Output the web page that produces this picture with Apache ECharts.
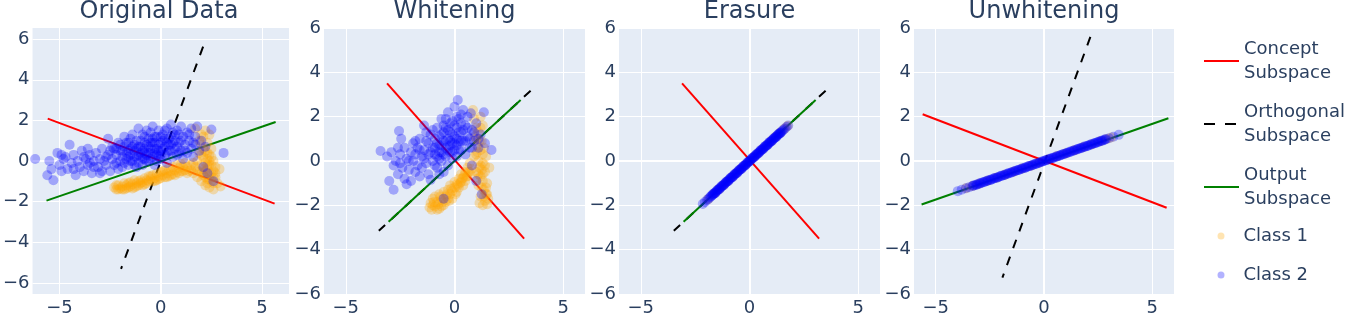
<!DOCTYPE html>
<html><head><meta charset="utf-8">
<script src="https://cdn.jsdelivr.net/npm/echarts@6/dist/echarts.min.js"></script>
<style>html,body{margin:0;padding:0;background:#fff}#c{width:1348px;height:317px}</style>
</head><body><div id="c"></div>
<script>
const titles = ['Original Data', 'Whitening', 'Erasure', 'Unwhitening'];
const xTicks = [-5, 0, 5];
const yTicks = [-6, -4, -2, 0, 2, 4, 6];
const xRanges = [[-6.33, 6.33], [-6, 6], [-6, 6], [-6, 6]];
const yRanges = [[-6.55, 6.55], [-6, 6], [-6, 6], [-6, 6]];

const conceptLines = [
  [[-5.58, 2.09], [5.62, -2.1]],
  [[-3.1, 3.5], [3.2, -3.5]],
  [[-3.1, 3.5], [3.2, -3.5]],
  [[-5.6, 2.11], [5.66, -2.11]]
];
const orthoLines = [
  [[2.09, 5.63], [-1.96, -5.31]],
  [[3.5, 3.17], [-3.48, -3.15]],
  [[3.5, 3.17], [-3.48, -3.15]],
  [[2.14, 5.6], [-1.92, -5.26]]
];
const outputLines = [
  [[-5.64, -1.95], [5.67, 1.92]],
  [[-3.03, -2.74], [3.04, 2.75]],
  [[-3.03, -2.74], [3.04, 2.75]],
  [[-5.65, -1.96], [5.74, 1.93]]
];

const origClass2 = [
[-6.2,0.1],[-5.6,-0.7],[-5.5,0.0],[-5.3,-0.95],[-5.1,0.4],[-5.0,-0.2],[-4.9,-0.5],[-4.8,0.1],[-4.5,0.8],[-4.6,-0.4],
[-4.4,-0.1],[-4.3,0.3],[-4.2,-0.7],[-4.1,0.0],[-4.0,-0.3],[-3.9,0.5],[-3.8,-0.5],[-3.7,0.1],[-3.6,-0.2],[-3.5,0.3],
[-3.4,-0.6],[-3.3,0.0],[-3.2,0.4],[-3.1,-0.3],[-3.0,0.1],[-2.9,-0.5],[-2.9,0.6],[-2.8,0.0],[-2.7,-0.2],[-2.6,0.3],
[-2.6,1.1],[-2.5,-0.5],[-2.4,0.1],[-2.3,0.6],[-2.3,-0.2],[-2.2,0.3],[-2.1,0.9],[-2.1,-0.4],[-2.0,0.0],[-2.0,0.5],
[-1.9,0.2],[-1.9,-0.3],[-1.8,0.7],[-1.8,1.2],[-1.7,0.1],[-1.7,0.4],[-1.6,-0.2],[-1.6,0.9],[-1.5,0.3],[-1.5,0.6],
[-1.4,1.3],[-1.4,0.0],[-1.3,0.5],[-1.3,0.8],[-1.2,-0.3],[-1.2,0.2],[-1.1,1.6],[-1.1,0.7],[-1.0,0.4],[-1.0,1.0],
[-0.9,0.1],[-0.9,-0.2],[-0.9,1.3],[-0.8,0.6],[-0.8,0.9],[-0.7,0.3],[-0.7,1.5],[-0.6,0.0],[-0.6,0.7],[-0.6,1.1],
[-0.5,0.4],[-0.5,1.4],[-0.4,0.2],[-0.4,0.9],[-0.4,1.7],[-0.3,0.6],[-0.3,-0.2],[-0.2,1.2],[-0.2,0.3],[-0.1,0.8],
[-0.1,1.5],[0.0,0.1],[0.0,0.5],[0.1,1.0],[0.1,1.3],[0.2,0.3],[0.2,0.7],[0.3,1.6],[0.3,-0.1],[0.4,0.5],
[0.4,1.1],[0.5,0.8],[0.5,1.8],[0.6,0.2],[0.6,1.4],[0.7,0.6],[0.7,1.0],[0.8,1.5],[0.8,0.3],[0.9,0.9],
[1.0,1.7],[1.0,0.5],[1.1,1.2],[1.1,0.1],[1.2,0.8],[1.3,1.4],[1.3,0.4],[1.4,1.0],[1.5,0.6],[1.5,1.6],
[1.6,0.2],[1.7,1.2],[1.7,0.8],[1.8,1.7],[1.9,0.5],[2.0,1.0],[2.1,-0.3],[2.2,0.7],[2.3,-0.6],[2.5,1.55],
[2.6,-1.0],[3.1,0.4],[-1.5,0.0],[-1.0,0.2],[-0.7,0.0],[-0.5,0.9],[-0.2,0.6],[0.0,0.9],[-0.8,0.4],[-1.2,1.0],
[0.3,0.9],[-0.3,1.2],[-2.5,0.5],[-3.5,-0.1],[-4.7,0.2],[-5.4,-0.4],[-3.0,-0.6],[-1.6,0.5],[0.9,1.3],[0.2,1.5],
[-0.1,0.2],[-2.4,0.7],[-2.2,-0.1],[-2.0,0.8],[-1.9,0.5],[-1.8,-0.1],[-1.7,0.9],[-1.6,0.2],[-1.5,1.1],[-1.4,0.7],
[-1.3,0.2],[-1.2,0.6],[-1.1,0.3],[-1.1,-0.1],[-1.0,0.7],[-0.9,0.5],[-0.8,1.2],[-0.8,0.1],[-0.7,0.8],[-0.6,0.4],
[-0.5,0.1],[-0.5,0.6],[-0.4,1.1],[-0.3,0.4],[-0.3,0.9],[-0.2,0.0],[-0.1,0.5],[0.0,1.2],[0.0,0.3],[0.1,0.6],
[0.2,1.1],[0.3,0.4],[0.4,0.8],[0.5,1.2],[0.5,0.5],[0.6,0.9],[0.7,1.3],[0.8,0.7],[0.9,0.4],[1.0,1.0],
[1.2,0.5],[1.4,1.3],[1.6,0.9],[-3.8,0.2],[-4.3,-0.4],[-3.3,-0.3],[-2.7,0.2],[-3.6,0.6],[-4.9,0.3],[-2.2,0.6],
[-1.3,-0.2]
];
const origClass1 = [
[-2.3,-1.3],[-2.2,-1.4],[-2.1,-1.2],[-2.0,-1.35],[-1.9,-1.25],[-1.8,-1.1],[-1.8,-1.4],[-1.7,-1.2],[-1.6,-1.3],[-1.5,-1.05],
[-1.5,-1.25],[-1.4,-1.15],[-1.3,-1.3],[-1.3,-0.95],[-1.2,-1.1],[-1.1,-1.2],[-1.0,-0.95],[-1.0,-1.1],[-0.9,-1.05],[-0.8,-0.85],
[-0.8,-1.15],[-0.7,-0.95],[-0.6,-1.0],[-0.6,-0.75],[-0.5,-0.9],[-0.4,-0.7],[-0.4,-1.0],[-0.3,-0.85],[-0.2,-0.6],[-0.2,-0.95],
[-0.1,-0.75],[0.0,-0.55],[0.0,-0.85],[0.1,-0.7],[0.2,-0.45],[0.2,-0.8],[0.3,-0.6],[0.4,-0.35],[0.4,-0.75],[0.5,-0.5],
[0.6,-0.65],[0.6,-0.3],[0.7,-0.45],[0.8,-0.2],[0.8,-0.55],[0.9,-0.35],[1.0,-0.5],[1.0,-0.15],[1.1,-0.3],[1.2,-0.45],
[1.2,-0.1],[1.3,-0.3],[1.4,-0.5],[1.5,-0.2],[1.6,-0.6],[1.7,-0.3],[1.8,0.0],[1.8,-0.8],[1.9,0.4],[1.9,-0.5],
[2.0,0.8],[2.0,-1.0],[2.0,-0.2],[2.1,1.2],[2.1,0.2],[2.1,-0.7],[2.2,1.5],[2.2,-0.1],[2.2,-1.2],[2.2,0.5],
[2.3,0.9],[2.3,-0.4],[2.3,-0.9],[2.3,0.1],[2.4,1.3],[2.4,-0.6],[2.4,-1.3],[2.4,0.3],[2.5,-0.2],[2.5,-1.0],
[2.5,0.6],[2.6,-0.5],[2.6,-1.4],[2.6,0.0],[2.7,-0.8],[2.7,-0.3],[2.8,-1.1],[2.9,-0.4],[2.95,-1.25],[1.7,1.6],
[1.9,1.0],[2.0,0.3],[2.2,-0.5],[2.4,-0.2],[2.5,0.2],[2.3,-1.1],[-2.2,-1.2],[-2.1,-1.4],[-1.9,-1.4],[-1.7,-1.35],
[-1.6,-1.1],[-1.4,-1.35],[-1.2,-1.25],[-1.1,-1.0],[-0.9,-1.2],[-0.7,-1.1],[-0.5,-0.75],[-0.3,-1.0],[-0.1,-0.9],[0.1,-0.5],
[0.3,-0.8],[0.5,-0.7],[0.7,-0.7],[0.9,-0.6],[1.1,-0.5],[1.3,-0.6],[1.5,-0.45],[1.6,-0.1],[1.8,-0.5],[2.0,-0.6],
[2.1,-0.4],[2.2,-0.8],[2.3,-0.2],[2.4,-0.9],[2.5,-0.6],[2.6,-0.8],[2.1,0.6],[2.3,0.4],[2.0,1.3],[2.4,0.0],
[2.6,-1.1],[2.7,-0.6]
];
const whitenClass2 = [
[-3.4,0.45],[-3.0,-0.9],[-2.8,-1.3],[-2.55,1.35],[-2.45,1.0],[-2.2,-1.05],[-3.1,0.2],[-2.9,0.4],[-2.8,-0.2],[-2.7,0.0],
[-2.6,-0.6],[-2.5,0.3],[-2.4,-0.3],[-2.3,0.6],[-2.3,-0.8],[-2.2,0.1],[-2.1,-0.4],[-2.0,0.4],[-2.0,-0.9],[-1.9,0.0],
[-1.9,0.8],[-1.8,-0.5],[-1.8,0.3],[-1.7,-0.2],[-1.7,0.6],[-1.6,1.0],[-1.6,-0.7],[-1.5,0.2],[-1.5,-0.3],[-1.4,1.6],
[-1.4,0.5],[-1.3,-0.1],[-1.3,0.9],[-1.2,0.3],[-1.2,-0.6],[-1.1,1.2],[-1.1,-0.85],[-1.0,0.0],[-1.0,0.6],[-0.9,1.0],
[-0.9,0.3],[-0.8,1.5],[-0.8,-0.3],[-0.7,0.7],[-0.7,0.1],[-0.6,1.2],[-0.6,1.9],[-0.6,0.4],[-0.5,-0.5],[-0.5,0.9],
[-0.4,0.2],[-0.4,1.5],[-0.4,0.6],[-0.3,2.2],[-0.3,1.0],[-0.3,-0.2],[-0.2,0.4],[-0.2,1.3],[-0.1,0.8],[-0.1,1.8],
[-0.1,0.1],[0.0,2.45],[0.0,1.1],[0.0,0.5],[0.1,1.5],[0.1,0.2],[0.15,2.75],[0.2,0.9],[0.2,1.9],[0.3,0.5],
[0.3,1.3],[0.4,2.3],[0.4,0.9],[0.5,1.6],[0.5,0.3],[0.6,1.1],[0.6,2.0],[0.7,0.6],[0.75,2.15],[0.8,1.4],
[0.9,0.9],[1.0,1.7],[1.1,0.6],[1.2,1.2],[1.35,2.2],[1.4,0.8],[1.7,0.5],[-0.6,0.0],[-0.8,0.8],[-0.2,0.7],
[0.1,0.7],[-0.5,1.3],[-1.0,1.4],[0.3,1.7],[-0.7,-0.6],[0.8,-0.2],[1.0,-0.9],[1.25,-1.5],[-0.5,-1.7],[-0.9,0.6],
[-0.8,0.2],[-0.7,1.1],[-0.6,0.7],[-0.5,0.3],[-0.5,1.6],[-0.4,0.9],[-0.4,1.9],[-0.3,0.5],[-0.3,1.4],[-0.2,0.9],
[-0.2,1.7],[-0.1,0.4],[-0.1,1.2],[0.0,0.8],[0.0,1.6],[0.1,1.0],[0.1,2.0],[0.2,0.5],[0.2,1.3],[0.3,0.9],
[0.3,2.1],[0.4,1.4],[0.5,0.9],[0.6,1.5],[0.7,1.0],[0.9,1.3],[-1.2,0.8],[-1.4,0.1],[-1.6,0.5],[-1.8,0.9],
[-2.1,0.0],[-2.5,-0.1],[-2.6,0.6],[-1.1,0.4],[-0.7,0.4],[-1.3,1.3],[-0.9,-0.2],[1.1,1.0],[0.8,0.6]
];
const whitenClass1 = [
[-1.15,-2.1],[-1.1,-1.9],[-1.0,-1.7],[-0.9,-2.05],[-0.9,-1.6],[-0.8,-1.85],[-0.7,-2.15],[-0.7,-1.5],[-0.6,-1.75],[-0.5,-2.0],
[-0.5,-1.4],[-0.4,-1.6],[-0.4,-1.85],[-0.3,-1.3],[-0.3,-1.7],[-0.2,-1.5],[-0.2,-1.1],[-0.1,-1.35],[-0.1,-1.7],[0.0,-1.2],
[0.0,-0.95],[0.1,-1.4],[0.1,-1.05],[0.2,-0.8],[0.2,-1.2],[0.3,-0.95],[0.3,-0.6],[0.4,-1.1],[0.4,-0.75],[0.5,-0.5],
[0.5,-0.9],[0.6,-0.7],[0.6,-0.3],[0.7,-0.5],[0.7,-0.1],[0.8,-0.35],[-0.8,-2.2],[-0.6,-2.05],[-1.0,-2.0],[0.85,2.3],
[0.9,1.9],[1.0,1.5],[0.95,1.1],[1.05,0.7],[1.1,1.3],[1.0,0.3],[1.1,0.0],[1.2,0.5],[1.15,-0.3],[1.0,-0.5],
[1.2,-0.7],[1.3,-0.1],[1.25,0.9],[1.3,-0.9],[1.1,-1.1],[1.35,-1.3],[1.2,-1.6],[1.45,-1.5],[1.4,-1.8],[1.5,-1.95],
[1.3,-2.0],[1.55,-1.7],[1.4,-0.5],[1.45,0.2],[1.35,0.6],[1.5,-1.0],[1.3,1.6],[1.2,2.0],[0.9,0.2],[1.05,-0.8],
[1.25,-0.4],[1.15,-1.9],[1.6,-0.3],[-1.05,-2.2],[-0.95,-1.85],[-0.75,-1.95],[-0.65,-1.6],[-0.55,-1.85],[-0.35,-1.5],[-0.25,-1.8],
[-0.15,-1.25],[0.05,-1.5],[0.15,-1.1],[0.25,-1.0],[0.35,-0.8],[0.45,-0.65],[0.55,-0.7],[0.65,-0.5],[1.05,0.4],[1.15,0.9],
[1.2,-0.2],[1.3,-0.6],[1.25,-1.2],[1.35,-1.6],[1.45,-1.2],[1.1,-0.6],[1.0,1.0],[1.2,1.5],[1.4,-0.2],[1.3,0.3],
[1.5,-1.5]
];
const erasedClass2 = [
[-2.15,-1.94],[-2.05,-1.85],[-1.95,-1.76],[-1.88,-1.7],[-1.82,-1.64],[-1.78,-1.6],[-1.74,-1.57],[-1.7,-1.53],[-1.66,-1.5],[-1.62,-1.46],
[-1.58,-1.43],[-1.54,-1.39],[-1.5,-1.35],[-1.46,-1.32],[-1.42,-1.28],[-1.38,-1.24],[-1.34,-1.21],[-1.3,-1.17],[-1.26,-1.13],[-1.22,-1.1],
[-1.18,-1.06],[-1.14,-1.03],[-1.1,-0.99],[-1.06,-0.95],[-1.02,-0.92],[-0.98,-0.88],[-0.94,-0.85],[-0.9,-0.81],[-0.86,-0.77],[-0.82,-0.74],
[-0.78,-0.7],[-0.74,-0.67],[-0.7,-0.63],[-0.66,-0.59],[-0.62,-0.56],[-0.58,-0.52],[-0.54,-0.49],[-0.5,-0.45],[-0.46,-0.41],[-0.42,-0.38],
[-0.38,-0.34],[-0.34,-0.31],[-0.3,-0.27],[-0.26,-0.23],[-0.22,-0.2],[-0.18,-0.16],[-0.14,-0.13],[-0.1,-0.09],[-0.06,-0.05],[-0.02,-0.02],
[0.02,0.02],[0.06,0.05],[0.1,0.09],[0.14,0.13],[0.18,0.16],[0.22,0.2],[0.26,0.23],[0.3,0.27],[0.34,0.31],[0.38,0.34],
[0.42,0.38],[0.46,0.41],[0.5,0.45],[0.54,0.49],[0.58,0.52],[0.62,0.56],[0.66,0.59],[0.7,0.63],[0.74,0.67],[0.78,0.7],
[0.82,0.74],[0.86,0.77],[0.9,0.81],[0.94,0.85],[0.98,0.88],[1.02,0.92],[1.06,0.95],[1.1,0.99],[1.14,1.03],[1.18,1.06],
[1.22,1.1],[1.26,1.13],[1.3,1.17],[1.34,1.21],[1.38,1.24],[1.42,1.28],[1.46,1.31],[1.5,1.35],[1.55,1.4],[1.62,1.46],
[1.7,1.53],[1.78,1.6],[-1.68,-1.49],[-1.48,-1.31],[-1.28,-1.13],[-1.08,-0.95],[-0.88,-0.77],[-0.68,-0.59],[-0.48,-0.41],[-0.28,-0.23],
[-0.08,-0.05],[0.12,0.13],[0.32,0.3],[0.52,0.49],[0.72,0.67],[0.92,0.85],[1.12,1.03],[1.32,1.21],[-1.58,-1.45],[-1.38,-1.27],
[-1.18,-1.09],[-0.98,-0.91],[-0.78,-0.73],[-0.58,-0.55],[-0.38,-0.37],[-0.18,-0.19],[0.02,-0.01],[0.22,0.17],[0.42,0.35],[0.62,0.53],
[0.82,0.71],[1.02,0.89],[1.22,1.07],[1.42,1.25]
];
const erasedClass1 = [
[-1.9,-1.72],[-1.6,-1.45],[-1.4,-1.27],[-1.2,-1.09],[-1.0,-0.9],[-0.8,-0.72],[-0.6,-0.54],[-0.4,-0.36],[-0.2,-0.18],[0.0,0.0],
[0.2,0.18],[0.4,0.36],[0.6,0.54],[0.8,0.72],[1.0,0.9],[1.2,1.09],[1.4,1.27],[1.6,1.45],[1.75,1.58]
];
const unwhitenClass2 = [
[-3.98,-1.36],[-3.8,-1.3],[-3.6,-1.23],[-3.45,-1.18],[-3.3,-1.13],[-3.22,-1.1],[-3.14,-1.07],[-3.06,-1.05],[-2.98,-1.02],[-2.9,-0.99],
[-2.82,-0.96],[-2.74,-0.94],[-2.66,-0.91],[-2.58,-0.88],[-2.5,-0.86],[-2.42,-0.83],[-2.34,-0.8],[-2.26,-0.77],[-2.18,-0.75],[-2.1,-0.72],
[-2.02,-0.69],[-1.94,-0.66],[-1.86,-0.64],[-1.78,-0.61],[-1.7,-0.58],[-1.62,-0.55],[-1.54,-0.53],[-1.46,-0.5],[-1.38,-0.47],[-1.3,-0.44],
[-1.22,-0.42],[-1.14,-0.39],[-1.06,-0.36],[-0.98,-0.34],[-0.9,-0.31],[-0.82,-0.28],[-0.74,-0.25],[-0.66,-0.23],[-0.58,-0.2],[-0.5,-0.17],
[-0.42,-0.14],[-0.34,-0.12],[-0.26,-0.09],[-0.18,-0.06],[-0.1,-0.03],[-0.02,-0.01],[0.06,0.02],[0.14,0.05],[0.22,0.08],[0.3,0.1],
[0.38,0.13],[0.46,0.16],[0.54,0.18],[0.62,0.21],[0.7,0.24],[0.78,0.27],[0.86,0.29],[0.94,0.32],[1.02,0.35],[1.1,0.38],
[1.18,0.4],[1.26,0.43],[1.34,0.46],[1.42,0.49],[1.5,0.51],[1.58,0.54],[1.66,0.57],[1.74,0.6],[1.82,0.62],[1.9,0.65],
[1.98,0.68],[2.06,0.7],[2.14,0.73],[2.22,0.76],[2.3,0.79],[2.38,0.81],[2.46,0.84],[2.54,0.87],[2.62,0.9],[2.7,0.92],
[2.78,0.95],[2.86,0.98],[3.0,1.03],[3.2,1.09],[3.45,1.18],[-3.26,-1.1],[-3.1,-1.07],[-2.94,-1.0],[-2.78,-0.96],[-2.62,-0.89],
[-2.46,-0.85],[-2.3,-0.78],[-2.14,-0.74],[-1.98,-0.67],[-1.82,-0.63],[-1.66,-0.56],[-1.5,-0.52],[-1.34,-0.45],[-1.18,-0.41],[-1.02,-0.34],
[-0.86,-0.3],[-0.7,-0.23],[-0.54,-0.19],[-0.38,-0.12],[-0.22,-0.08],[-0.06,-0.01],[0.1,0.04],[0.26,0.1],[0.42,0.14],[0.58,0.21],
[0.74,0.25],[0.9,0.32],[1.06,0.36],[1.22,0.43],[1.38,0.47],[1.54,0.54],[1.7,0.58],[1.86,0.65],[2.02,0.69],[2.18,0.76],
[2.34,0.8],[2.5,0.87],[2.66,0.91],[2.82,0.98]
];
const unwhitenClass1 = [
[-3.6,-1.23],[-3.3,-1.13],[-3.0,-1.03],[-2.6,-0.89],[-2.2,-0.75],[-1.8,-0.62],[-1.4,-0.48],[-1.0,-0.34],[-0.6,-0.21],[-0.2,-0.07],
[0.2,0.07],[0.6,0.21],[1.0,0.34],[1.4,0.48],[1.8,0.62],[2.2,0.75],[2.6,0.89],[2.9,0.99],[3.1,1.06]
];
const class1Sets = [origClass1, whitenClass1, erasedClass1, unwhitenClass1];
const class2Sets = [origClass2, whitenClass2, erasedClass2, unwhitenClass2];

const FONT = 'DejaVu Sans';
const TXT = '#2a3f5f';
const grids = [
  {left: 29, top: 28, width: 260, height: 268},
  {left: 324, top: 28, width: 261, height: 267},
  {left: 619, top: 28, width: 261, height: 267},
  {left: 914, top: 28, width: 260, height: 267}
];
const fmt = v => String(v).replace('-', '\u2212');
const legendText = {fontSize: 18, lineHeight: 24, color: TXT, fontFamily: FONT};

const option = {
  animation: false,
  backgroundColor: '#ffffff',
  textStyle: {fontFamily: FONT},
  grid: grids.map(g => Object.assign({show: true, backgroundColor: '#E5ECF6', borderWidth: 0}, g)),
  xAxis: grids.map((g, i) => ({
    type: 'value', gridIndex: i, min: xRanges[i][0], max: xRanges[i][1],
    axisLine: {show: false},
    axisTick: {show: false, customValues: xTicks},
    axisLabel: {customValues: xTicks, formatter: fmt, fontSize: 18, color: TXT, fontFamily: FONT, margin: 5},
    splitLine: {show: true, lineStyle: {color: '#ffffff', width: 1}}
  })),
  yAxis: grids.map((g, i) => ({
    type: 'value', gridIndex: i, min: yRanges[i][0], max: yRanges[i][1],
    axisLine: {show: false},
    axisTick: {show: false, customValues: yTicks},
    axisLabel: {customValues: yTicks, formatter: fmt, fontSize: 18, color: TXT, fontFamily: FONT, margin: 3},
    splitLine: {show: true, lineStyle: {color: '#ffffff', width: 1}}
  })),
  legend: [
    {
      data: ['Concept Subspace', {name: 'Orthogonal Subspace', lineStyle: {type: [11, 10]}}, 'Output Subspace'],
      orient: 'vertical', left: 1198, top: 32, itemWidth: 35, itemHeight: 14, itemGap: 15,
      selectedMode: false, itemStyle: {opacity: 0},
      formatter: n => n.replace(' ', '\n'),
      textStyle: legendText
    },
    {
      data: ['Class 1', 'Class 2'],
      orient: 'vertical', left: 1212.5, top: 219, itemWidth: 7, itemHeight: 7, itemGap: 15,
      selectedMode: false,
      textStyle: Object.assign({padding: [0, 0, 0, 14]}, legendText)
    }
  ],
  graphic: titles.map((t, i) => ({
    type: 'text', x: grids[i].left + grids[i].width / 2, y: 0,
    style: {text: t, font: '24px "DejaVu Sans"', fill: TXT, align: 'center', verticalAlign: 'top'}
  })),
  series: []
};

for (let i = 0; i < 4; i++) {
  option.series.push({
    type: 'line', xAxisIndex: i, yAxisIndex: i, data: [], z: 1, silent: true,
    markLine: {silent: true, symbol: ['none', 'none'], z: 1, label: {show: false},
      lineStyle: {color: '#ffffff', width: 2, type: 'solid'},
      data: [{xAxis: 0}, {yAxis: 0}]}
  });
  option.series.push({
    name: 'Concept Subspace', type: 'line', xAxisIndex: i, yAxisIndex: i, z: 2,
    data: conceptLines[i], symbol: 'none', lineStyle: {color: '#ff0000', width: 2}, itemStyle: {color: '#ff0000'}
  });
  option.series.push({
    name: 'Orthogonal Subspace', type: 'line', xAxisIndex: i, yAxisIndex: i, z: 2,
    data: orthoLines[i], symbol: 'none', lineStyle: {color: '#000000', width: 2, type: [9, 9]}, itemStyle: {color: '#000000'}
  });
  option.series.push({
    name: 'Output Subspace', type: 'line', xAxisIndex: i, yAxisIndex: i, z: 2,
    data: outputLines[i], symbol: 'none', lineStyle: {color: '#008000', width: 2}, itemStyle: {color: '#008000'}
  });
  option.series.push({
    name: 'Class 1', type: 'scatter', xAxisIndex: i, yAxisIndex: i, z: 3,
    data: class1Sets[i], symbolSize: 10, itemStyle: {color: '#ffa500', opacity: 0.3}
  });
  option.series.push({
    name: 'Class 2', type: 'scatter', xAxisIndex: i, yAxisIndex: i, z: 4,
    data: class2Sets[i], symbolSize: 10, itemStyle: {color: '#0000ff', opacity: 0.3}
  });
}

const chart = echarts.init(document.getElementById('c'), null, {renderer: 'canvas'});
chart.setOption(option);
</script>
</body></html>
